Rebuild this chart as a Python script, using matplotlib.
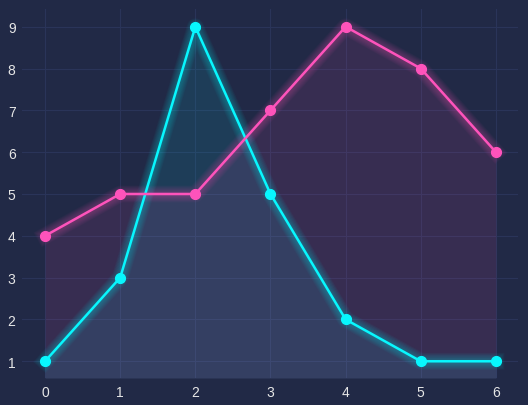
import matplotlib
matplotlib.use("Agg")
import matplotlib.pyplot as plt

x = [0, 1, 2, 3, 4, 5, 6]
cyan_vals = [1, 3, 9, 5, 2, 1, 1]
pink_vals = [4, 5, 5, 7, 9, 8, 6]

bg = '#212946'
plt.rcParams.update({
    'figure.facecolor': bg,
    'axes.facecolor': bg,
    'axes.edgecolor': bg,
    'grid.color': '#2A3459',
    'text.color': '0.9',
    'xtick.color': '0.9',
    'ytick.color': '0.9',
    'font.family': 'Liberation Sans',
    'font.size': 10,
})

fig = plt.figure(figsize=(5.28, 4.06), dpi=100)
ax = fig.add_axes([0.0426, 0.0665, 0.9394, 0.9085])

for vals, c in [(cyan_vals, '#08F7FE'), (pink_vals, '#FE53BB')]:
    ax.plot(x, vals, color=c, marker='o', markersize=7, linewidth=1.8, zorder=3)
    # glow
    for n in range(1, 11):
        ax.plot(x, vals, color=c, marker='o', markersize=7,
                linewidth=1.8 + 1.05 * n, alpha=0.03, zorder=2)

ax.margins(0.05)
ymin = ax.get_ylim()[0]
ax.fill_between(x, cyan_vals, ymin, color='#08F7FE', alpha=0.1, linewidth=0, zorder=1)
ax.fill_between(x, pink_vals, ymin, color='#FE53BB', alpha=0.1, linewidth=0, zorder=1)
ax.set_ylim(bottom=ymin)

ax.grid(True, zorder=0)
ax.set_axisbelow(True)
for s in ax.spines.values():
    s.set_visible(False)
ax.tick_params(length=0, pad=5)

plt.savefig('out.png', dpi=100, facecolor=bg)
